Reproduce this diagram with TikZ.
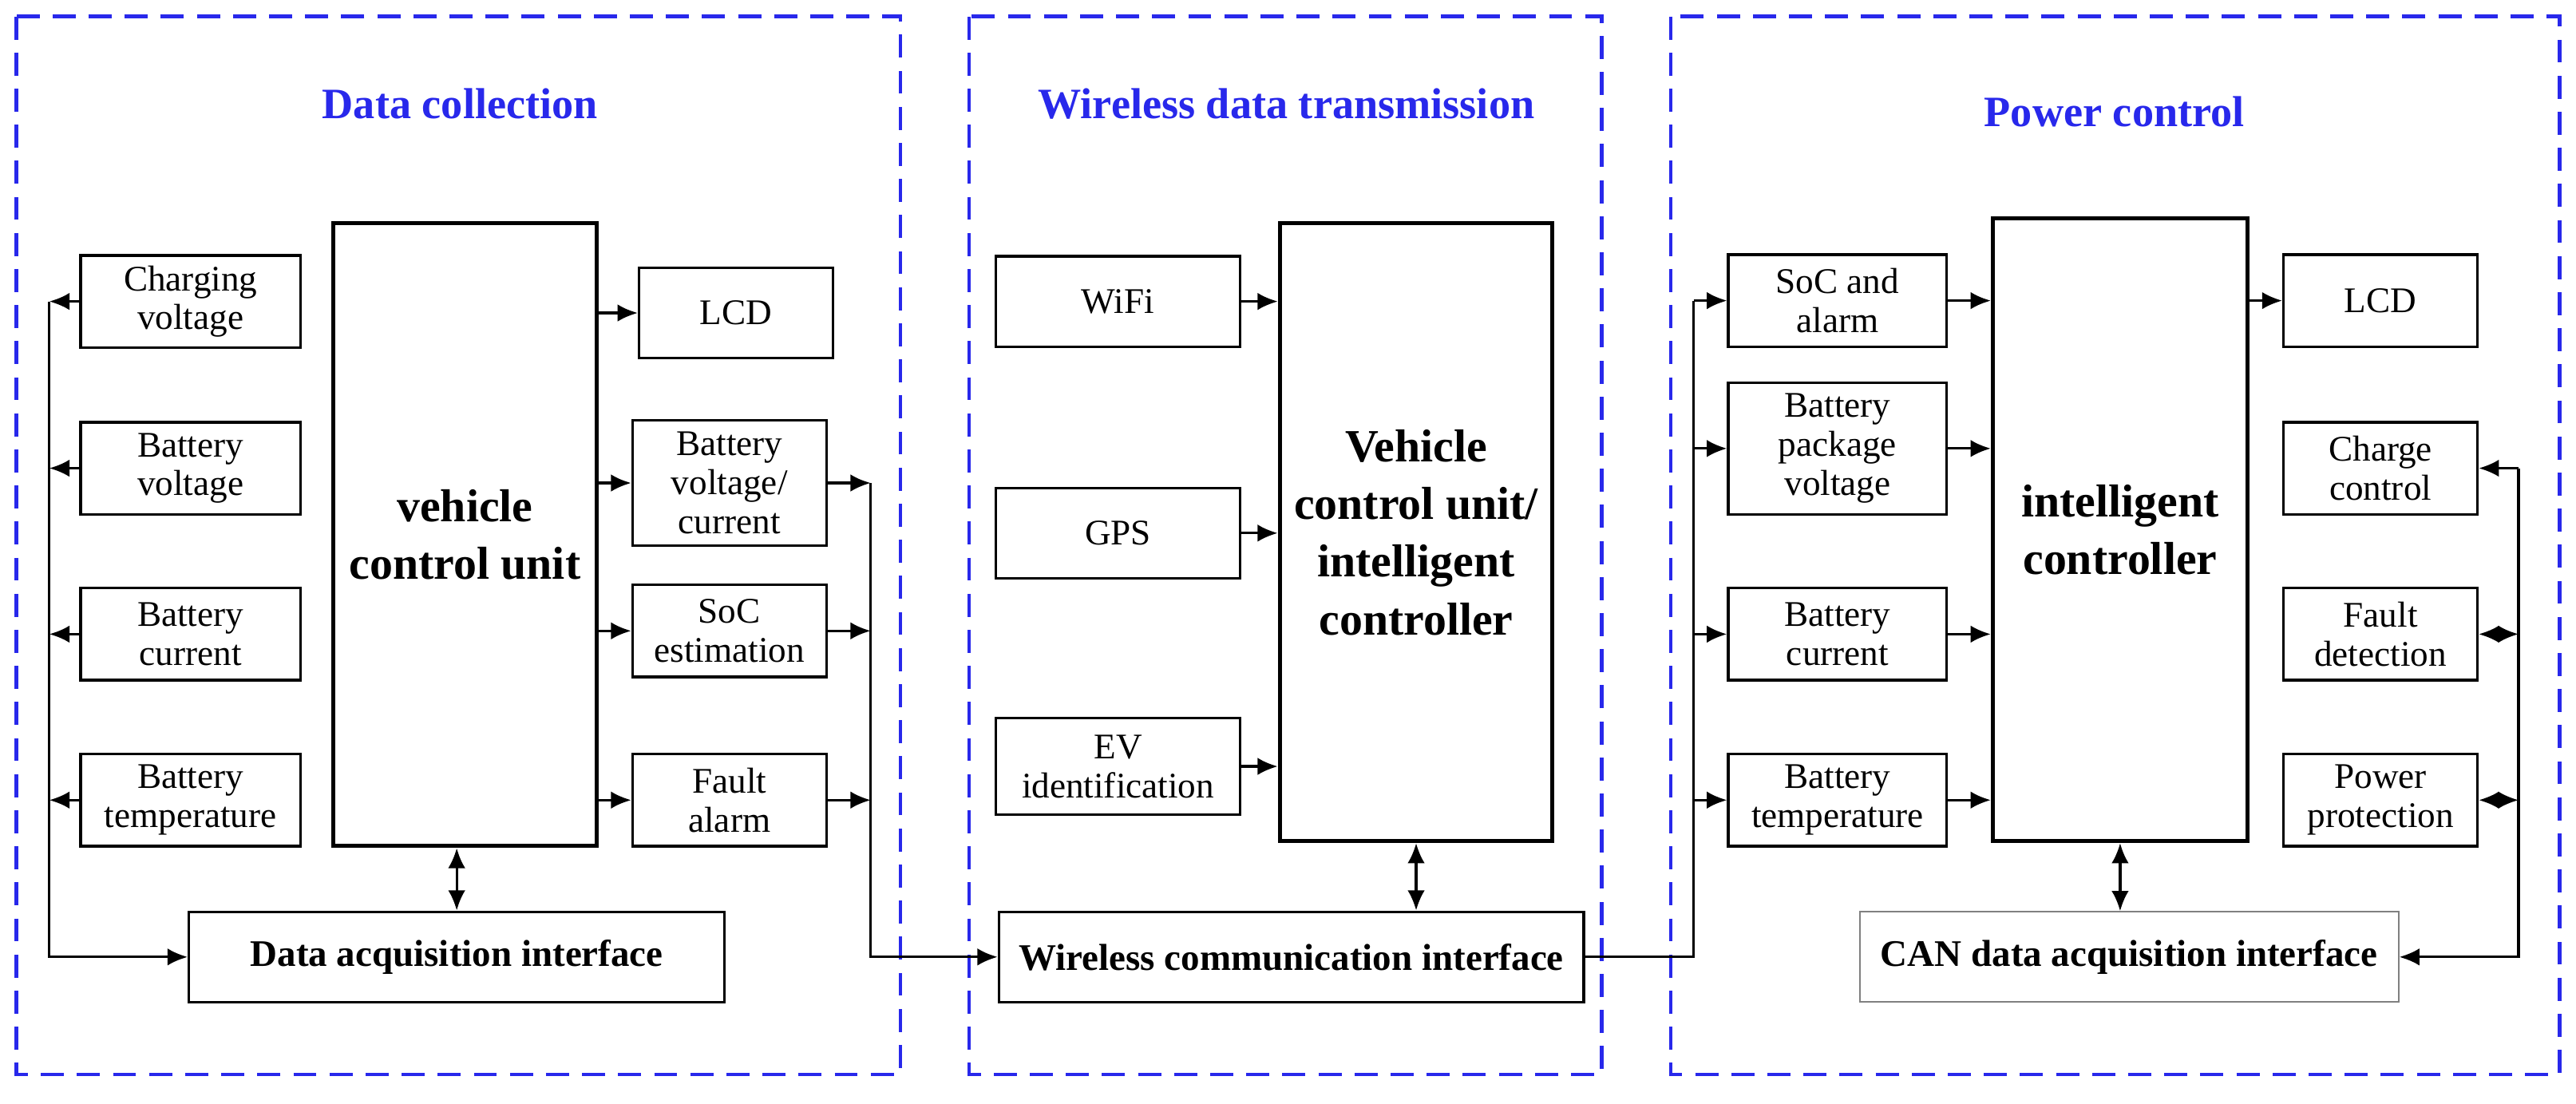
\documentclass[tikz,border=0pt]{standalone}
\usepackage{fontspec}
\setmainfont{Liberation Serif}[BoldFont={Liberation Serif Bold}]
\usetikzlibrary{positioning, arrows.meta}
\definecolor{panelblue}{RGB}{40,40,235}
\tikzset{
    box/.style={rectangle, draw, line width=0.9pt, align=center, font=\fontsize{12.5}{13.5}\selectfont, inner sep=1pt},
    bigbox/.style={rectangle, draw, line width=1.4pt, align=center, font=\fontsize{16}{20}\selectfont\bfseries},
    iface/.style={rectangle, draw, line width=0.9pt, align=center, font=\fontsize{13}{15}\selectfont\bfseries},
    panel/.style={draw=panelblue, line width=1.2pt, dash pattern=on 8pt off 4.5pt},
    title/.style={text=panelblue, font=\fontsize{15}{17}\selectfont\bfseries},
    arr/.style={-{Latex[length=7pt,width=6pt]}, line width=0.9pt},
    darr/.style={{Latex[length=7pt,width=6pt]}-{Latex[length=7pt,width=6pt]}, line width=0.9pt}
}
\begin{document}
\begin{tikzpicture}[x=0.02cm, y=-0.02cm]
    \useasboundingbox (0,0) rectangle (1568,672);
    % Panels
    \draw[panel] (10,10) rectangle (548,654);
    \draw[panel] (590,10) rectangle (975,654);
    \draw[panel] (1017,10) rectangle (1558,654);
    \node[title] (t1) at (280,63) {Data collection};
    \node[title] (t2) at (783,63) {Wireless data transmission};
    \node[title] (t3) at (1287,68) {Power control};

    % Data collection
    \node[box, minimum width=2.68cm, minimum height=1.12cm] (cv) at (116,183.5) {Charging\\voltage};
    \node[box, minimum width=2.68cm, minimum height=1.12cm] (bv) at (116,285) {Battery\\voltage};
    \node[box, minimum width=2.68cm, minimum height=1.12cm] (bc) at (116,386) {Battery\\current};
    \node[box, minimum width=2.68cm, minimum height=1.12cm] (bt) at (116,487) {Battery\\temperature};
    \node[bigbox, minimum width=3.2cm, minimum height=7.58cm] (vcu) at (283,325.5) {vehicle\\control unit};
    \node[box, minimum width=2.36cm, minimum height=1.1cm] (lcd) at (448,190.5) {LCD};
    \node[box, minimum width=2.36cm, minimum height=1.52cm] (bvc) at (444,294) {Battery\\voltage/\\current};
    \node[box, minimum width=2.36cm, minimum height=1.12cm] (soc) at (444,384) {SoC\\estimation};
    \node[box, minimum width=2.36cm, minimum height=1.12cm] (fa) at (444,487) {Fault\\alarm};
    \node[iface, minimum width=6.52cm, minimum height=1.1cm] (dai) at (278,582.5) {Data acquisition interface};
    \coordinate (lbus) at (30,0);
    \coordinate (mbus) at (530,0);
    \foreach \n in {cv,bv,bc,bt}
        \draw[arr] (\n.west) -- (\n.west -| lbus);
    \draw[arr] (cv.west -| lbus) |- (dai.west);
    \draw[arr] (vcu.east |- lcd.west) -- (lcd.west);
    \foreach \n in {bvc,soc,fa} {
        \draw[arr] (vcu.east |- \n.west) -- (\n.west);
        \draw[arr] (\n.east) -- (\n.east -| mbus);
    }
    \draw[darr] (vcu.south -| dai.north) -- (dai.north);

    % Wireless data transmission
    \node[box, minimum width=2.98cm, minimum height=1.1cm] (wifi) at (680.5,183.5) {WiFi};
    \node[box, minimum width=2.98cm, minimum height=1.1cm] (gps) at (680.5,324.5) {GPS};
    \node[box, minimum width=2.98cm, minimum height=1.18cm] (ev) at (680.5,466.5) {EV\\identification};
    \node[bigbox, minimum width=3.32cm, minimum height=7.52cm] (vcic) at (862,324) {Vehicle\\control unit/\\intelligent\\controller};
    \node[iface, minimum width=7.12cm, minimum height=1.1cm] (wci) at (786,582.5) {Wireless communication interface};
    \foreach \n in {wifi,gps,ev}
        \draw[arr] (\n.east) -- (\n.east -| vcic.west);
    \draw[darr] (vcic.south) -- (vcic.south |- wci.north);
    \draw[arr] (bvc.east -| mbus) |- (wci.west);

    % Power control
    \node[box, minimum width=2.66cm, minimum height=1.12cm] (sa) at (1118.5,183) {SoC and\\alarm};
    \node[box, minimum width=2.66cm, minimum height=1.6cm] (bpv) at (1118.5,273) {Battery\\package\\voltage};
    \node[box, minimum width=2.66cm, minimum height=1.12cm] (pbc) at (1118.5,386) {Battery\\current};
    \node[box, minimum width=2.66cm, minimum height=1.12cm] (pbt) at (1118.5,487) {Battery\\temperature};
    \node[bigbox, minimum width=3.1cm, minimum height=7.58cm] (ic) at (1290.5,322.5) {intelligent\\controller};
    \node[box, minimum width=2.36cm, minimum height=1.12cm] (plcd) at (1449,183) {LCD};
    \node[box, minimum width=2.36cm, minimum height=1.12cm] (cc) at (1449,285) {Charge\\control};
    \node[box, minimum width=2.36cm, minimum height=1.12cm] (fd) at (1449,386) {Fault\\detection};
    \node[box, minimum width=2.36cm, minimum height=1.12cm] (pp) at (1449,487) {Power\\protection};
    \node[iface, draw=gray, line width=0.5pt, minimum width=6.56cm, minimum height=1.1cm] (can) at (1296,582.5) {CAN data acquisition interface};
    \coordinate (pbus) at (1031,0);
    \coordinate (rbus) at (1533,0);
    \draw[line width=0.9pt] (wci.east) -| (sa.west -| pbus);
    \foreach \n in {sa,bpv,pbc,pbt} {
        \draw[arr] (\n.west -| pbus) -- (\n.west);
        \draw[arr] (\n.east) -- (\n.east -| ic.west);
    }
    \draw[arr] (ic.east |- plcd.west) -- (plcd.west);
    \draw[arr] (cc.east -| rbus) -- (cc.east);
    \draw[arr] (cc.east -| rbus) |- (can.east);
    \draw[darr] (fd.east) -- (fd.east -| rbus);
    \draw[darr] (pp.east) -- (pp.east -| rbus);
    \draw[darr] (ic.south) -- (ic.south |- can.north);
\end{tikzpicture}
\end{document}
